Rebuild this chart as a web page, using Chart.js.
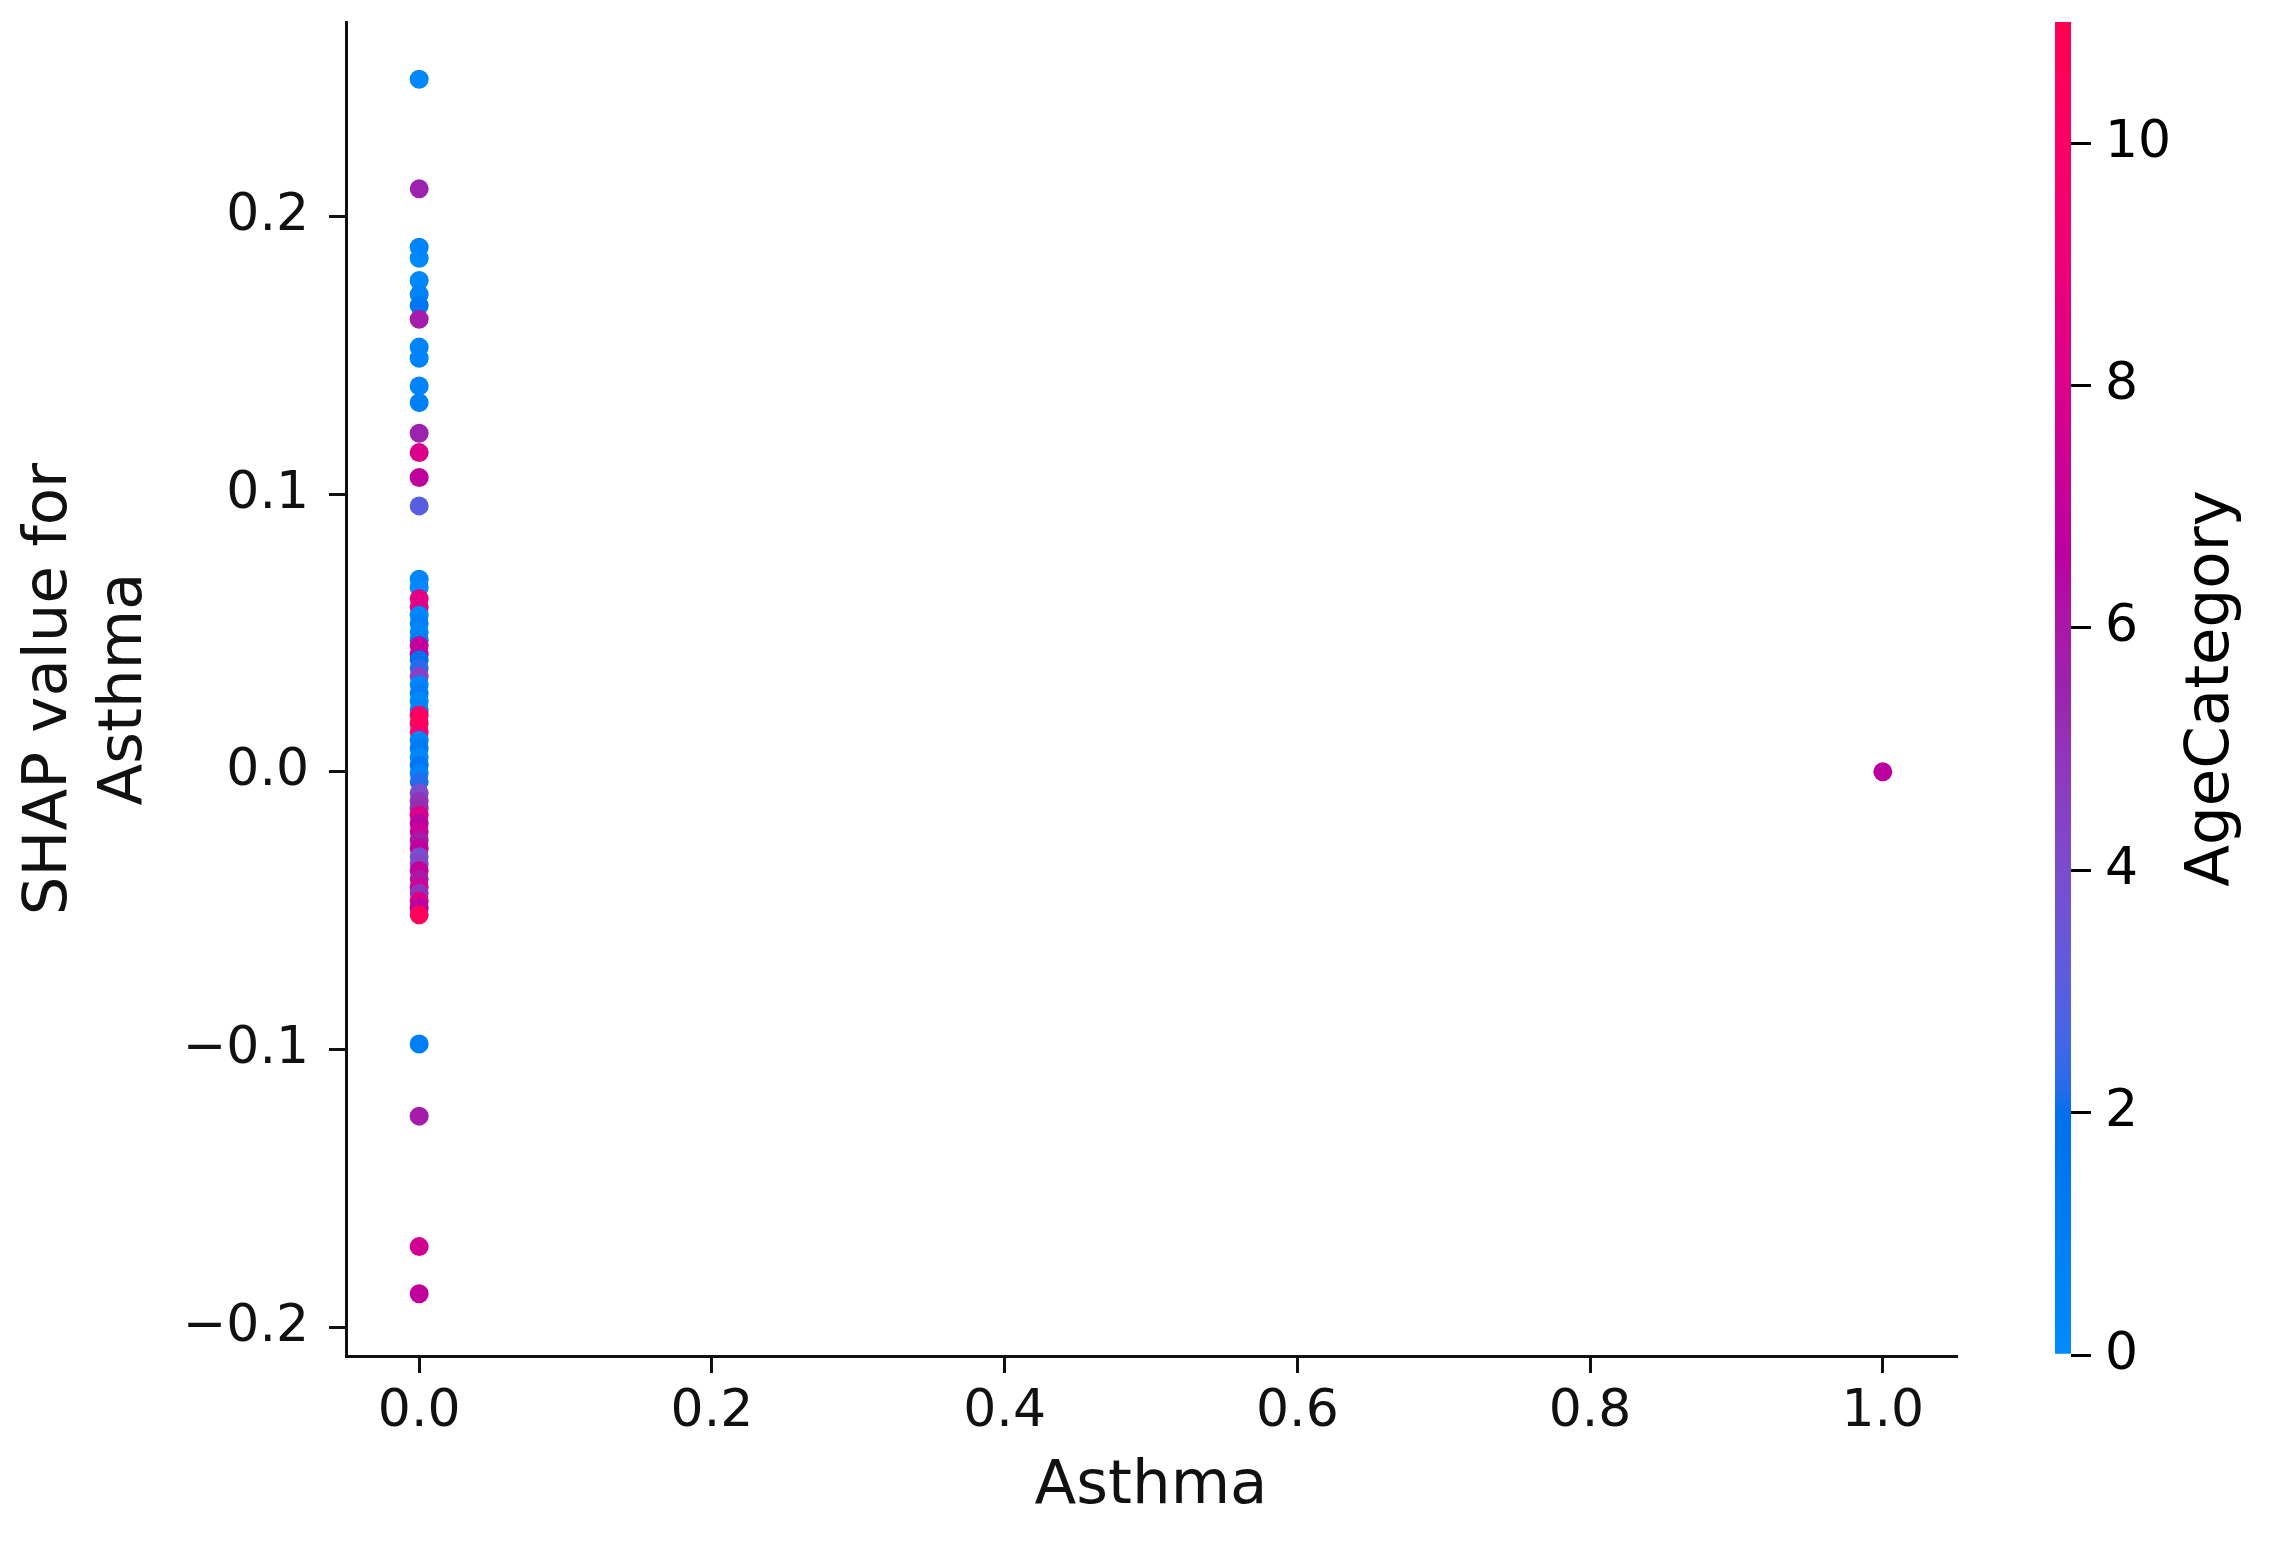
<!DOCTYPE html>
<html>
<head>
<meta charset="utf-8">
<title>SHAP dependence plot - Asthma</title>
<script src="https://cdn.jsdelivr.net/npm/chart.js@4.4.1/dist/chart.umd.min.js"></script>
<style>
  html, body { margin: 0; padding: 0; background: #fff; }
  #wrap { position: relative; width: 2280px; height: 1551px; overflow: hidden; background: #fff; }
  #mainChart { position: absolute; left: 0; top: 0; }
  #colorbarChart { position: absolute; left: 1990px; top: 0; }
</style>
</head>
<body>
<div id="wrap">
  <canvas id="mainChart" width="1990" height="1551"></canvas>
  <canvas id="colorbarChart" width="290" height="1551"></canvas>
</div>
<script>
// data: feature value, SHAP value and AgeCategory (colour) per dot
const asthmaValues = [
  0, 0, 0, 0, 0, 0, 0, 0, 0, 0, 0, 0, 0, 0, 0, 0,
  0, 0, 0, 0, 0, 0, 0, 0, 0, 0, 0, 0, 0, 0, 0, 0, 0, 0, 0, 0, 0, 0, 0, 0,
  0, 0, 0, 0, 0, 0, 0, 0, 0, 0, 0, 0, 0, 0, 0, 0, 0, 0, 0,
  0, 0, 0, 0,
  1
];
const shapValues = [
  0.2495, 0.210, 0.189, 0.185, 0.177, 0.172, 0.168, 0.163, 0.153, 0.149, 0.139, 0.133, 0.122, 0.115, 0.106, 0.0958,
  0.0694, 0.0664, 0.0624, 0.0594, 0.0564, 0.0534, 0.0504, 0.0474, 0.0454, 0.0424, 0.0404, 0.0374, 0.0344, 0.0314, 0.0284, 0.0254, 0.0224, 0.0204, 0.0174, 0.0144, 0.0114, 0.0084, 0.0054, 0.0024,
  -0.0006, -0.0036, -0.0076, -0.0106, -0.0131, -0.0156, -0.0186, -0.0216, -0.0246, -0.0276, -0.0306, -0.0331, -0.0356, -0.0386, -0.0416, -0.0436, -0.0466, -0.0491, -0.0515,
  -0.098, -0.124, -0.171, -0.188,
  0.0
];
const ageCategoryValues = [
  0.3, 5.5, 0.5, 0.2, 0.3, 0.6, 1.5, 5.8, 0.5, 0.7, 0.5, 0.8, 5.5, 8, 6.8, 3,
  0.4, 0.2, 8.5, 8.2, 0.3, 0.8, 0.4, 1.0, 7, 6.8, 2, 2.2, 4.5, 0.5, 1, 0.3, 0.6, 10, 10.5, 9.8, 0.5, 1.2, 0.3, 1.5,
  0.6, 2.2, 4, 5, 5.2, 8, 6.5, 7.2, 6, 6.8, 4, 4.3, 7, 6, 7.5, 5, 8, 6.5, 10.5,
  1, 5.8, 7.5, 6.8,
  6.6
];

const xTickValues = [0, 0.2, 0.4, 0.6, 0.8, 1.0];
const xTickLabels = ["0.0", "0.2", "0.4", "0.6", "0.8", "1.0"];
const yTickValues = [-0.2, -0.1, 0, 0.1, 0.2];
const yTickLabels = ["\u22120.2", "\u22120.1", "0.0", "0.1", "0.2"];
const colorTickValues = [0, 2, 4, 6, 8, 10];
const colorTickLabels = ["0", "2", "4", "6", "8", "10"];
const colorMin = 0;
const colorMax = 11;

const axisColor = "#111111";
Chart.defaults.font.family = "'DejaVu Sans', sans-serif";

// shap's red_blue colormap: interpolate in LCH, convert to sRGB
function redBlue(t) {
  t = Math.max(0, Math.min(1, t));
  const L = t < 0.5 ? 54 + (40 - 54) * (t / 0.5) : 40 + (54 - 40) * ((t - 0.5) / 0.5);
  const C = 70 + (90 - 70) * t;
  const H = 4.6588 + (0.35470565 + 2 * Math.PI - 4.6588) * t;
  const a = C * Math.cos(H);
  const b = C * Math.sin(H);
  const fy = (L + 16) / 116;
  const fx = a / 500 + fy;
  const fz = fy - b / 200;
  const inv = (v) => (v > 0.2068966 ? v * v * v : (v - 16 / 116) / 7.787);
  const X = 0.95047 * inv(fx);
  const Y = inv(fy);
  const Z = 1.08883 * inv(fz);
  const lin = [
    3.2404542 * X - 1.5371385 * Y - 0.4985314 * Z,
    -0.969266 * X + 1.8760108 * Y + 0.041556 * Z,
    0.0556434 * X - 0.2040259 * Y + 1.0572252 * Z,
  ];
  const rgb = lin.map((v) => {
    const g = v > 0.0031308 ? 1.055 * Math.pow(v, 1 / 2.4) - 0.055 : 12.92 * v;
    return Math.round(Math.max(0, Math.min(1, g)) * 255);
  });
  return "rgb(" + rgb.join(",") + ")";
}

// keep the plot box where matplotlib put it (no extra room for edge labels)
function noEdgePadding(scale) {
  scale.paddingTop = 0;
  scale.paddingBottom = 0;
  scale.paddingLeft = 0;
  scale.paddingRight = 0;
}

// Main scatter
const points = asthmaValues.map((x, i) => ({ x: x, y: shapValues[i] }));
new Chart(document.getElementById("mainChart"), {
  type: "scatter",
  data: {
    datasets: [
      {
        data: points,
        backgroundColor: ageCategoryValues.map((v) => redBlue((v - colorMin) / (colorMax - colorMin))),
        borderWidth: 0,
        pointRadius: 9.5,
        pointHoverRadius: 9.5,
      },
    ],
  },
  options: {
    responsive: false,
    animation: false,
    events: [],
    layout: { padding: { left: 0, top: 22, right: 34, bottom: 0 } },
    plugins: {
      legend: { display: false },
      tooltip: { enabled: false },
    },
    scales: {
      x: {
        type: "linear",
        min: -0.05,
        max: 1.05,
        afterBuildTicks: (scale) => {
          scale.ticks = xTickValues.map((v) => ({ value: v }));
        },
        afterFit: (scale) => {
          scale.height = 195;
          noEdgePadding(scale);
        },
        ticks: {
          callback: (v, i) => xTickLabels[i],
          autoSkip: false,
          maxRotation: 0,
          padding: 8,
          color: axisColor,
          font: { size: 52 },
        },
        grid: {
          drawOnChartArea: false,
          drawTicks: true,
          tickLength: 17,
          color: axisColor,
          lineWidth: 3,
        },
        border: { display: true, color: axisColor, width: 3 },
        title: {
          display: true,
          text: "Asthma",
          color: axisColor,
          font: { size: 61, lineHeight: 1.2 },
          padding: { top: 0, bottom: 27 },
        },
      },
      y: {
        type: "linear",
        min: -0.2104,
        max: 0.2701,
        afterBuildTicks: (scale) => {
          scale.ticks = yTickValues.map((v) => ({ value: v }));
        },
        afterFit: (scale) => {
          scale.width = 346;
          noEdgePadding(scale);
        },
        ticks: {
          callback: (v, i) => yTickLabels[i],
          autoSkip: false,
          padding: 20,
          color: axisColor,
          font: { size: 52 },
        },
        grid: {
          drawOnChartArea: false,
          drawTicks: true,
          tickLength: 17,
          color: axisColor,
          lineWidth: 3,
        },
        border: { display: true, color: axisColor, width: 3 },
        title: {
          display: true,
          text: ["SHAP value for", "Asthma"],
          color: axisColor,
          font: { size: 61, lineHeight: 1.23 },
          padding: { top: 13, bottom: 0 },
        },
      },
    },
  },
});

// Colorbar label, reads bottom to top like matplotlib
const colorbarLabel = {
  id: "colorbarLabel",
  afterDraw(chart) {
    const { ctx, chartArea } = chart;
    ctx.save();
    ctx.translate(222, (chartArea.top + chartArea.bottom) / 2);
    ctx.rotate(-Math.PI / 2);
    ctx.font = "61px 'DejaVu Sans', sans-serif";
    ctx.fillStyle = "#000";
    ctx.textAlign = "center";
    ctx.textBaseline = "middle";
    ctx.fillText("AgeCategory", 0, 0);
    ctx.restore();
  },
};

// Colorbar: one bar spanning the colour range, filled with the colormap
new Chart(document.getElementById("colorbarChart"), {
  type: "bar",
  data: {
    labels: ["AgeCategory"],
    datasets: [
      {
        data: [colorMax],
        backgroundColor: (context) => {
          const area = context.chart.chartArea;
          if (!area) return "transparent";
          const grad = context.chart.ctx.createLinearGradient(0, area.bottom, 0, area.top);
          for (let k = 0; k <= 50; k++) {
            grad.addColorStop(k / 50, redBlue(k / 50));
          }
          return grad;
        },
        borderWidth: 0,
        barPercentage: 1,
        categoryPercentage: 1,
      },
    ],
  },
  options: {
    responsive: false,
    animation: false,
    events: [],
    layout: { padding: { left: 65, top: 22, right: 0, bottom: 196 } },
    plugins: {
      legend: { display: false },
      tooltip: { enabled: false },
    },
    scales: {
      x: { display: false },
      y: {
        position: "right",
        min: colorMin,
        max: colorMax,
        afterBuildTicks: (scale) => {
          scale.ticks = colorTickValues.map((v) => ({ value: v }));
        },
        afterFit: (scale) => {
          scale.width = 209;
          noEdgePadding(scale);
        },
        ticks: {
          callback: (v, i) => colorTickLabels[i],
          autoSkip: false,
          padding: 14,
          color: "#000",
          font: { size: 52 },
        },
        grid: {
          drawOnChartArea: false,
          drawTicks: true,
          tickLength: 20,
          color: "#000",
          lineWidth: 3,
        },
        border: { display: false },
      },
    },
  },
  plugins: [colorbarLabel],
});
</script>
</body>
</html>
